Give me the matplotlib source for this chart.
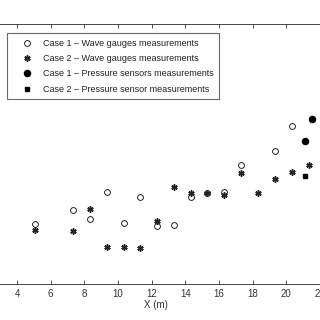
import matplotlib
matplotlib.use("Agg")
import matplotlib.pyplot as plt

plt.rcParams['font.family'] = ['Liberation Sans', 'DejaVu Sans']

# Data (y in arbitrary units)
x_c1_gauges = [5.05, 7.33, 8.31, 9.32, 10.33, 11.33, 12.32, 13.32, 14.32, 15.31, 16.30, 17.33, 19.33, 20.34]
y_c1_gauges = [0.608, 0.748, 0.650, 0.928, 0.612, 0.875, 0.585, 0.592, 0.872, 0.912, 0.922, 1.192, 1.338, 1.585]

x_c2_gauges = [5.05, 7.33, 8.31, 9.32, 10.33, 11.33, 12.32, 13.32, 14.32, 15.31, 16.30, 17.33, 18.32, 19.33, 20.34, 21.33]
y_c2_gauges = [0.548, 0.538, 0.755, 0.372, 0.378, 0.362, 0.635, 0.972, 0.912, 0.912, 0.892, 1.112, 0.912, 1.055, 1.122, 1.192]

x_c1_pressure = [21.13, 21.53]
y_c1_pressure = [1.435, 1.652]

x_c2_pressure = [21.13]
y_c2_pressure = [1.088]

x_ticks = [4, 6, 8, 10, 12, 14, 16, 18, 20, 22]
labels = ["Case 1 \u2013 Wave gauges measurements",
          "Case 2 \u2013 Wave gauges measurements",
          "Case 1 \u2013 Pressure sensors measurements",
          "Case 2 \u2013 Pressure sensor measurements"]

fig = plt.figure(figsize=(3.2, 3.2), dpi=100)
ax = fig.add_axes([-0.052, 0.111, 1.078, 0.814])

ax.plot(x_c1_gauges, y_c1_gauges, linestyle='none', marker='o', ms=4.2,
        mfc='white', mec='#222222', mew=0.7, label=labels[0])
ax.plot(x_c2_gauges, y_c2_gauges, linestyle='none', marker=(6, 2, 0), ms=4.5,
        color='#222222', mew=1.1, label=labels[1])
ax.plot(x_c1_pressure, y_c1_pressure, linestyle='none', marker='o', ms=4.4,
        color='black', label=labels[2])
ax.plot(x_c2_pressure, y_c2_pressure, linestyle='none', marker='s', ms=3.5,
        color='black', label=labels[3])

ax.set_xlim(2, 22.5)
ax.set_ylim(0, 2.605)
ax.set_xticks(x_ticks)
ax.set_yticks([])
ax.tick_params(axis='x', direction='in', top=True, length=3, width=0.6,
               labelsize=7, pad=3, colors='#333333')
for s in ax.spines.values():
    s.set_linewidth(0.7)
    s.set_color('#444444')
ax.set_xlabel("X (m)", fontsize=7, labelpad=1, color='#333333')

leg = ax.legend(loc='upper left', bbox_to_anchor=(0.068, 0.964), borderaxespad=0,
                fontsize=6.5, frameon=True, fancybox=False, edgecolor='#444444',
                borderpad=0.6, handlelength=3.2, handletextpad=0.2,
                labelspacing=0.7, numpoints=1)
leg.get_frame().set_linewidth(0.8)
for t in leg.get_texts():
    t.set_color('#222222')

fig.savefig("out.png", dpi=100)
